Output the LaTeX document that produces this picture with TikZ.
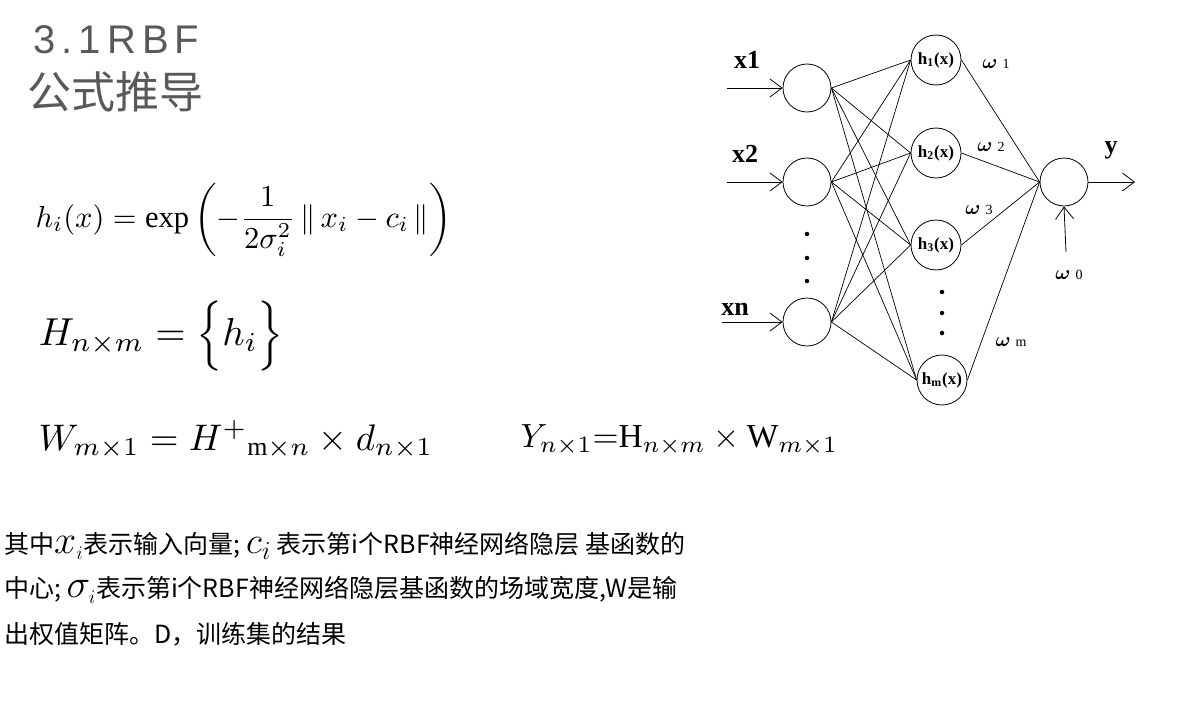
\documentclass[tikz,border=0pt]{standalone}
\usepackage{amsmath}
\usepackage{bm}
\usepackage{graphicx}
\usepackage{fontspec}
\setmainfont{Liberation Serif}
\newfontfamily\cjk{Noto Sans CJK SC}
\newfontfamily\tsans[LetterSpace=15]{Liberation Sans}
\usetikzlibrary{arrows.meta}
\begin{document}
\begin{tikzpicture}[x=1pt,y=-1pt,
  neur/.style={circle,draw,line width=0.8pt,minimum size=48pt,inner sep=0pt},
  hid/.style={circle,draw,line width=0.8pt,minimum size=50pt,inner sep=0pt},
  hl/.style={scale=1.7,font=\bfseries,inner sep=0pt},
  lnk/.style={line width=0.7pt},
  inarr/.style={line width=0.8pt,-{Straight Barb[length=12pt,width=18pt]}},
  lbl/.style={font=\bfseries,scale=2.6},
  wl/.style={scale=2.0},
  dot/.style={circle,fill,inner sep=0pt,minimum size=4.5pt},
  cn/.style={font=\cjk\fontsize{25}{25}\selectfont,anchor=west,inner sep=0pt}]
\useasboundingbox (0,0) rectangle (1186,704);
% title
\node[anchor=west,text=black!65,font=\tsans\fontsize{40}{40}\selectfont] (t1) at (30,40) {3.1RBF};
\node[anchor=west,text=black!65,font=\cjk\fontsize{44}{44}\selectfont] (t2) at (24,92) {公式推导};
% formulas
\node[anchor=west,scale=3.05,inner sep=0pt] (f1) at (35,220) {$h_i(x)=\exp\left(-\dfrac{1}{2\sigma_i^2}\,\|\,x_i-c_i\,\|\right)$};
\node[anchor=west,scale=3.9,inner sep=0pt] (f2) at (38,336) {$H_{n\times m}=\Big\{h_i\Big\}$};
\node[anchor=west,scale=3.7,inner sep=0pt] (f3) at (38,440) {$W_{m\times 1}=H^{+}{}_{\mathrm{m}\times n}\times d_{n\times 1}$};
\node[anchor=west,scale=3.35,inner sep=0pt] (f4) at (520,440) {$Y_{n\times 1}{=}\mathrm{H}_{n\times m}\times\mathrm{W}_{m\times 1}$};
% bottom text
\node[cn] (b1) at (4,546) {其中\scalebox{1.6}{$x_{\scriptscriptstyle i}$}表示输入向量; \scalebox{1.5}{$c_i$} 表示第i个RBF神经网络隐层 基函数的};
\node[cn] (b2) at (4,590) {中心; \scalebox{1.6}{$\sigma_{\scriptscriptstyle i}$}表示第i个RBF神经网络隐层基函数的场域宽度,W是输};
\node[cn] (b3) at (4,634) {出权值矩阵。D，训练集的结果};
% network
\node[neur] (i1) at (807,88) {};
\node[neur] (i2) at (807,182) {};
\node[neur] (i3) at (807,322) {};
\node[hid] (h1) at (936,60) {}; \node[hl] at (h1) {h\textsubscript{1}(x)};
\node[hid] (h2) at (936,153) {}; \node[hl] at (h2) {h\textsubscript{2}(x)};
\node[hid] (h3) at (936,245) {}; \node[hl] at (h3) {h\textsubscript{3}(x)};
\node[hid] (h4) at (942,380) {}; \node[hl] at (h4) {h\textsubscript{m}(x)};
\node[neur] (o) at (1064,182) {};
\foreach \i in {i1,i2,i3}{\foreach \h in {h1,h2,h3,h4}{\draw[lnk] (\i.east) -- (\h.west);}}
\foreach \h in {h1,h2,h3,h4}{\draw[lnk] (\h.east) -- (o.west);}
\coordinate (a1) at (727,88); \coordinate (a2) at (727,182); \coordinate (a3) at (722,322);
\coordinate (ay) at (1135,182); \coordinate (a0) at (1066,252);
\draw[inarr] (a1) -- (i1.west);
\draw[inarr] (a2) -- (i2.west);
\draw[inarr] (a3) -- (i3.west);
\draw[inarr] (o.east) -- (ay);
\draw[inarr] (a0) -- (o.south);
\node[lbl] (lx1) at (747,60) {x1};
\node[lbl] (lx2) at (745,154) {x2};
\node[lbl] (lxn) at (735,309) {xn};
\node[lbl] (ly) at (1111,150) {y};
\node[wl] (w1) at (996,64) {$\bm\omega$ \scriptsize1};
\node[wl] (w2) at (991,147) {$\bm\omega$ \scriptsize2};
\node[wl] (w3) at (979,210) {$\bm\omega$ \scriptsize3};
\node[wl] (w0) at (1069,275) {$\bm\omega$ \scriptsize0};
\node[wl] (wm) at (1011,342) {$\bm\omega$ \scriptsize m};
\foreach \y in {234,258,281}{\node[dot] at (807,\y) {};}
\foreach \y in {292,313,333}{\node[dot] at (942,\y) {};}
\end{tikzpicture}
\end{document}
